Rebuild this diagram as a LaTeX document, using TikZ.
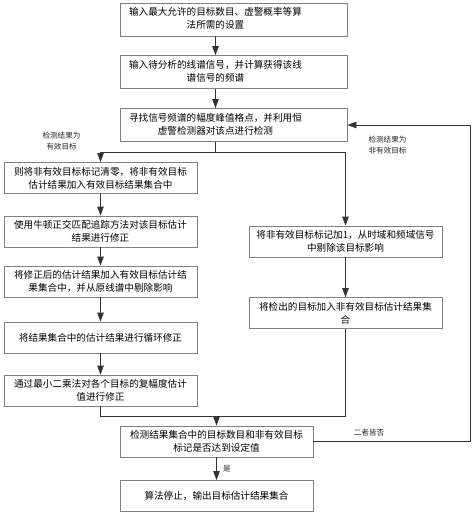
\documentclass[tikz,border=0pt]{standalone}
\usepackage{fontspec}
\setmainfont{Noto Sans CJK SC}
\usetikzlibrary{arrows.meta}
\begin{document}
\begin{tikzpicture}[x=1pt,y=-1pt,
	box/.style={draw=black!50,line width=0.8pt,fill=white,inner sep=0pt,
		font=\fontsize{9.6}{13}\selectfont},
	wide/.style={box,minimum width=227pt,minimum height=33pt},
	narrow/.style={box,align=center,minimum width=193pt,minimum height=31pt},
	link/.style={draw=black!80,line width=0.8pt},
	flow/.style={link,-{Triangle[length=9pt,width=6.5pt]}},
	note/.style={font=\fontsize{7.6}{11}\selectfont,align=center,text=black!85}]
	\newcommand{\toptext}[1]{
		\begin{tabular}{@{}c@{}}#1\end{tabular}\hspace{36pt}
	}%Canvas
	\useasboundingbox (0,0) rectangle (474,515);
	%Main column at the top
	\coordinate (trunk) at (215.5,0);
	\node [wide] (input) at (233.5,19.5) {\toptext{输入最大允许的目标数目、虚警概率等算\\法所需的设置}};
	\node [wide] (signal) at (233.5,72) {\toptext{输入待分析的线谱信号，并计算获得该线\\谱信号的频谱}};
	\node [wide] (detect) at (233.5,125) {\toptext{寻找信号频谱的幅度峰值格点，并利用恒\\虚警检测器对该点进行检测}};
	%Left branch: valid target
	\node [narrow] (clear) at (100.5,178) {则将非有效目标标记清零，将非有效目标\\估计结果加入有效目标结果集合中};
	\node [narrow] (correct) at (100.5,231.5) {使用牛顿正交匹配追踪方法对该目标估计\\结果进行修正};
	\node [narrow] (addset) at (100.5,281.5) {将修正后的估计结果加入有效目标估计结\\果集合中，并从原线谱中剔除影响};
	\node [narrow] (cycle) at (100.5,337.5) {将结果集合中的估计结果进行循环修正};
	\node [narrow] (lsq) at (100.5,390.5) {通过最小二乘法对各个目标的复幅度估计\\值进行修正};
	%Right branch: non-valid target
	\node [narrow] (mark) at (345.5,241.5) {将非有效目标标记加1，从时域和频域信号\\中剔除该目标影响};
	\node [narrow] (addinv) at (345.5,313) {将检出的目标加入非有效目标估计结果集\\合};
	%Bottom
	\node [narrow] (check) at (216.5,441.5) {检测结果集合中的目标数目和非有效目标\\标记是否达到设定值};
	\node [narrow] (stop) at (216.5,496) {算法停止，输出目标估计结果集合};
	%Arrows of the top column
	\draw [flow] (input.south -| trunk) -- (signal.north -| trunk);
	\draw [flow] (signal.south -| trunk) -- (detect.north -| trunk);
	%Fork into the two branches
	\coordinate (fork) at (215.5,152);
	\draw [link] (detect.south -| trunk) -- (fork);
	\draw [flow] (fork) -| (clear.north);
	\draw [flow] (fork) -| (mark.north);
	\node [note] (validnote) at (61.5,141.5) {检测结果为\\有效目标};
	\node [note] (invalidnote) at (387.5,145.5) {检测结果为\\非有效目标};
	%Left chain
	\draw [flow] (clear) -- (correct);
	\draw [flow] (correct) -- (addset);
	\draw [flow] (addset) -- (cycle);
	\draw [flow] (cycle) -- (lsq);
	%Right chain
	\draw [flow] (mark) -- (addinv);
	%Join of both branches
	\coordinate (join) at (216.5,416);
	\draw [link] (lsq.south) |- (join);
	\draw [link] (addinv.south) |- (join);
	\draw [flow] (join) -- (check.north);
	\draw [flow] (check) -- node [note,right=3pt] (yes) {是} (stop);
	%Loop back when both are no
	\coordinate (rail) at (470,0);
	\draw [flow] (check.east) -- (check.east -| rail) -- (rail |- detect.east) -- (detect.east);
	\node [note] (bothno) at (369,433) {二者皆否};
\end{tikzpicture}
\end{document}
